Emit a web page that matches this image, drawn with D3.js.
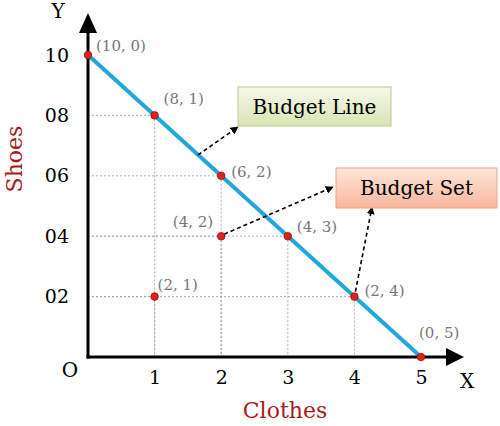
<!DOCTYPE html>
<html><head><meta charset="utf-8">
<script src="https://cdn.jsdelivr.net/npm/d3@7"></script>
<style>body{margin:0;background:#fff}svg{display:block}</style>
</head><body>
<script>
const xTicks = [1, 2, 3, 4, 5];
const yTicks = [2, 4, 6, 8, 10];
const yTickLabels = ["02", "04", "06", "08", "10"];
const clothes = [0, 1, 2, 2, 3, 1, 4, 5];
const shoes = [10, 8, 6, 4, 4, 2, 2, 0];
const pointLabels = ["(10, 0)", "(8, 1)", "(6, 2)", "(4, 2)", "(4, 3)", "(2, 1)", "(2, 4)", "(0, 5)"];
const budgetLine = [[0, 10], [5, 0]];
const boxTexts = ["Budget Line", "Budget Set"];

const W = 500, H = 426;
const svg = d3.select("body").append("svg").attr("width", W).attr("height", H);
const x = d3.scaleLinear().domain([0, 5]).range([88, 421]);
const y = d3.scaleLinear().domain([0, 10]).range([357, 55]);
const font = "'DejaVu Serif', serif";

const defs = svg.append("defs");
function grad(id, c1, c2) {
  const g = defs.append("linearGradient").attr("id", id).attr("x1", 0).attr("y1", 0).attr("x2", 0).attr("y2", 1);
  g.append("stop").attr("offset", "0%").attr("stop-color", c1);
  g.append("stop").attr("offset", "100%").attr("stop-color", c2);
}
grad("gLine", "#f6f9ea", "#d8e4b4");
grad("gSet", "#fde6da", "#f8b79c");
defs.append("marker").attr("id", "arr").attr("viewBox", "0 0 10 10").attr("refX", 9).attr("refY", 5)
  .attr("markerWidth", 5).attr("markerHeight", 5).attr("orient", "auto")
  .append("path").attr("d", "M0,0L10,5L0,10Z").attr("fill", "#000");

const pts = clothes.map((c, i) => ({c, s: shoes[i], label: pointLabels[i]}));

// guide lines
const guides = svg.append("g").attr("stroke", "#999").attr("stroke-width", 0.8).attr("stroke-dasharray", "2,2");
pts.forEach(p => {
  if (p.c > 0 && p.s > 0) {
    guides.append("line").attr("x1", x(0)).attr("x2", x(p.c)).attr("y1", y(p.s)).attr("y2", y(p.s));
    guides.append("line").attr("x1", x(p.c)).attr("x2", x(p.c)).attr("y1", y(p.s)).attr("y2", y(0));
  }
});

// budget line
svg.append("path").datum(budgetLine)
  .attr("d", d3.line().x(d => x(d[0])).y(d => y(d[1])))
  .attr("stroke", "#22a6de").attr("stroke-width", 4).attr("fill", "none");

// axes
const xAxis = d3.axisBottom(x).tickValues(xTicks).tickSize(0).tickPadding(14).tickFormat(d3.format("d"));
const gx = svg.append("g").attr("transform", `translate(0,${y(0)})`).call(xAxis);
gx.select(".domain").remove();
gx.selectAll("text").attr("font-family", font).attr("font-size", 19).attr("fill", "#000");

const yAxis = d3.axisLeft(y).tickValues(yTicks).tickSize(0).tickPadding(19).tickFormat((d, i) => yTickLabels[i]);
const gy = svg.append("g").attr("transform", `translate(${x(0)},0)`).call(yAxis);
gy.select(".domain").remove();
gy.selectAll("text").attr("font-family", font).attr("font-size", 19).attr("fill", "#000");

svg.append("line").attr("x1", x(0)).attr("x2", x(0)).attr("y1", y(0) + 1.5).attr("y2", 30).attr("stroke", "#000").attr("stroke-width", 3);
svg.append("path").attr("d", `M${x(0)},13L${x(0) - 9},33L${x(0) + 9},33Z`).attr("fill", "#000");
svg.append("line").attr("x1", x(0) - 1.5).attr("x2", 448).attr("y1", y(0)).attr("y2", y(0)).attr("stroke", "#000").attr("stroke-width", 3);
svg.append("path").attr("d", `M464,${y(0)}L446,${y(0) - 9}L446,${y(0) + 9}Z`).attr("fill", "#000");

svg.append("text").attr("x", 58).attr("y", 18).attr("text-anchor", "middle").attr("font-family", font).attr("font-size", 20).text("Y");
svg.append("text").attr("x", 467).attr("y", 388).attr("text-anchor", "middle").attr("font-family", font).attr("font-size", 20).text("X");
svg.append("text").attr("x", 70).attr("y", 377).attr("text-anchor", "middle").attr("font-family", font).attr("font-size", 20).text("O");

svg.append("text").attr("transform", "translate(22,159) rotate(-90)").attr("text-anchor", "middle")
  .attr("font-family", font).attr("font-size", 22).attr("fill", "#a61c1c").text("Shoes");
svg.append("text").attr("x", 285).attr("y", 418).attr("text-anchor", "middle")
  .attr("font-family", font).attr("font-size", 22).attr("fill", "#a61c1c").text("Clothes");

// annotation arrows
const arrows = svg.append("g").attr("stroke", "#000").attr("stroke-width", 1.6).attr("stroke-dasharray", "4,3").attr("fill", "none");
arrows.append("line").attr("x1", 198).attr("y1", 155).attr("x2", 238).attr("y2", 127).attr("marker-end", "url(#arr)");
arrows.append("line").attr("x1", x(2) + 3).attr("y1", y(4) - 2).attr("x2", 333).attr("y2", 187).attr("marker-end", "url(#arr)");
arrows.append("line").attr("x1", x(4) + 1).attr("y1", y(2) - 5).attr("x2", 372).attr("y2", 207).attr("marker-end", "url(#arr)");

// points
svg.append("g").selectAll("circle").data(pts).join("circle")
  .attr("cx", d => x(d.c)).attr("cy", d => y(d.s)).attr("r", 3.8)
  .attr("fill", "#e3211c").attr("stroke", "#9a1010").attr("stroke-width", 0.8);

const offs = [[8, -4, "start"], [9, -11, "start"], [10, 1, "start"], [-8, -9, "end"], [9, -4, "start"], [3, -7, "start"], [10, -1, "start"], [-2, -19, "start"]];
svg.append("g").selectAll("text").data(pts).join("text")
  .attr("x", (d, i) => x(d.c) + offs[i][0]).attr("y", (d, i) => y(d.s) + offs[i][1])
  .attr("text-anchor", (d, i) => offs[i][2]).attr("font-family", font).attr("font-size", 15).attr("fill", "#777")
  .text(d => d.label);

// boxes
const boxes = [{t: boxTexts[0], x: 238, y: 87, w: 153, h: 39, f: "url(#gLine)", s: "#b9c98e"},
               {t: boxTexts[1], x: 336, y: 168, w: 161, h: 40, f: "url(#gSet)", s: "#f0a584"}];
boxes.forEach(b => {
  svg.append("rect").attr("x", b.x).attr("y", b.y).attr("width", b.w).attr("height", b.h).attr("fill", b.f).attr("stroke", b.s).attr("stroke-width", 1);
  svg.append("text").attr("x", b.x + b.w / 2).attr("y", b.y + b.h / 2 + 7).attr("text-anchor", "middle")
    .attr("font-family", font).attr("font-size", 20).attr("fill", "#000").text(b.t);
});
</script>
</body></html>
